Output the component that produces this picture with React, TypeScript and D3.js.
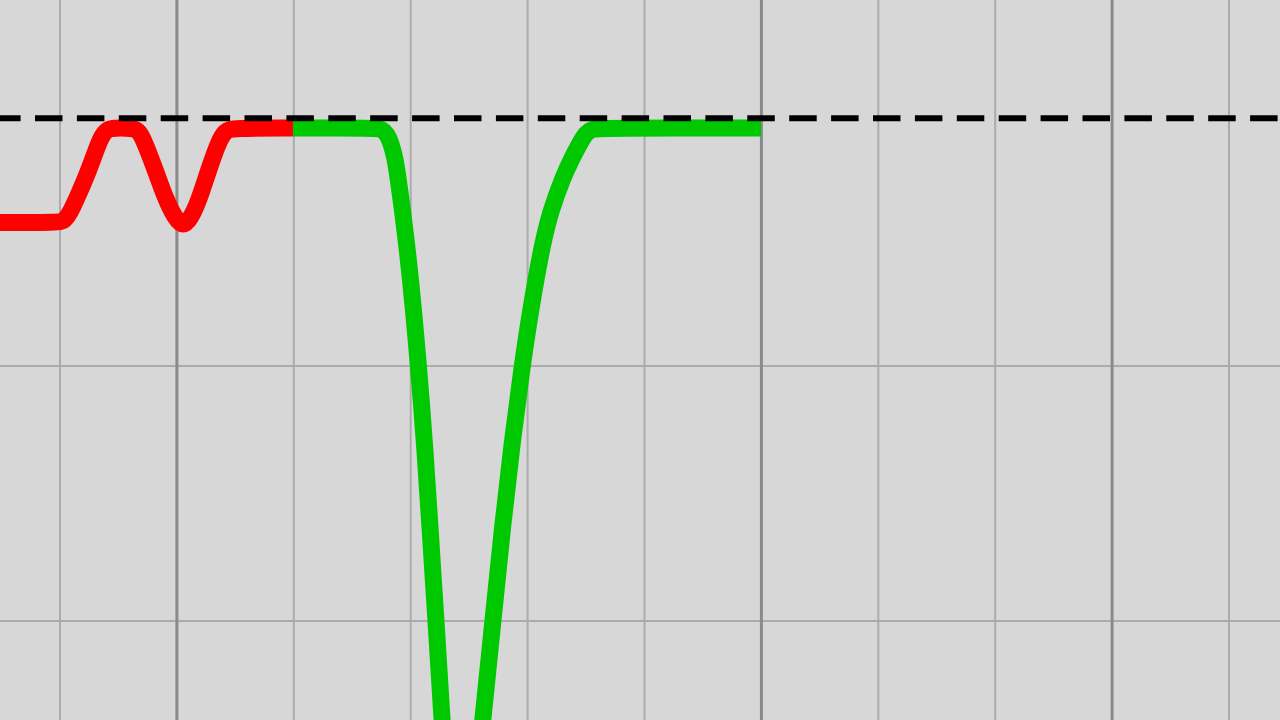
import { useEffect, useRef } from "react";
import * as d3 from "d3";

// grid positions (in grid units)
const gridX = [0, 1, 2, 3, 4, 5, 6, 7, 8, 9, 10];
const gridXMajor = [1, 6, 9];
const gridY = [0, 1];
const thresholdLevel = 1.972;

// red segment (before the switch)
const redX = [-0.52, 0, 0.034, 0.086, 0.145, 0.231, 0.308, 0.359, 0.411, 0.453, 0.624, 0.676, 0.727, 0.821, 0.907, 0.984, 1.052, 1.12, 1.189, 1.266, 1.352, 1.411, 1.471, 1.993];
const redY = [1.563, 1.563, 1.569, 1.6, 1.659, 1.749, 1.847, 1.906, 1.929, 1.933, 1.933, 1.922, 1.875, 1.761, 1.651, 1.58, 1.545, 1.58, 1.651, 1.761, 1.875, 1.922, 1.933, 1.933];

// green segment (after the switch)
const greenX = [1.993, 2.703, 2.754, 2.797, 2.831, 2.866, 2.891, 2.93, 2.964, 2.996, 3.024, 3.067, 3.093, 3.118, 3.165, 3.216, 3.268, 3.328, 3.405, 3.49, 3.618, 3.704, 3.785, 3.867, 3.952, 4.025, 4.127, 4.2, 4.303, 4.38, 4.448, 4.5, 4.551, 4.619, 5.997];
const greenY = [1.933, 1.933, 1.929, 1.91, 1.875, 1.816, 1.741, 1.612, 1.482, 1.349, 1.22, 0.996, 0.847, 0.698, 0.369, 0.004, -0.388, -0.82, -1.29, -0.937, -0.388, 0.004, 0.369, 0.698, 0.996, 1.22, 1.482, 1.612, 1.741, 1.816, 1.875, 1.914, 1.929, 1.933, 1.933];

const W = 1280;
const H = 720;

export default function App() {
  const svgRef = useRef<SVGSVGElement>(null);

  useEffect(() => {
    const svg = d3.select(svgRef.current);
    svg.selectAll("*").remove();

    const x = d3.scaleLinear().domain([0, 10]).range([60, 1229]);
    const y = d3.scaleLinear().domain([0, 1]).range([621, 366]);

    svg.append("rect").attr("width", W).attr("height", H).attr("fill", "#d7d7d7");

    // grid
    svg
      .selectAll(".hgrid")
      .data(gridY)
      .join("line")
      .attr("x1", 0)
      .attr("x2", W)
      .attr("y1", (d) => y(d))
      .attr("y2", (d) => y(d))
      .attr("stroke", "#ababab")
      .attr("stroke-width", 2);

    svg
      .selectAll(".vgrid")
      .data(gridX)
      .join("line")
      .attr("x1", (d) => x(d))
      .attr("x2", (d) => x(d))
      .attr("y1", 0)
      .attr("y2", H)
      .attr("stroke", (d) => (gridXMajor.includes(d) ? "#8a8a8a" : "#ababab"))
      .attr("stroke-width", (d) => (gridXMajor.includes(d) ? 3 : 2));

    // b-spline smooths out the jitter of the read-off points
    const line = d3
      .line<[number, number]>()
      .x((d) => x(d[0]))
      .y((d) => y(d[1]))
      .curve(d3.curveBasis);

    const red = redX.map((v, i) => [v, redY[i]] as [number, number]);
    const green = greenX.map((v, i) => [v, greenY[i]] as [number, number]);

    svg
      .append("path")
      .attr("d", line(red))
      .attr("fill", "none")
      .attr("stroke", "#ff0000")
      .attr("stroke-width", 17)
      .attr("stroke-linejoin", "round");

    svg
      .append("path")
      .attr("d", line(green))
      .attr("fill", "none")
      .attr("stroke", "#00c800")
      .attr("stroke-width", 17)
      .attr("stroke-linejoin", "round");

    // threshold
    svg
      .append("line")
      .attr("x1", 0)
      .attr("x2", W)
      .attr("y1", y(thresholdLevel))
      .attr("y2", y(thresholdLevel))
      .attr("stroke", "#000")
      .attr("stroke-width", 6)
      .attr("stroke-dasharray", "27.5 14.4")
      .attr("stroke-dashoffset", 6.9);
  }, []);

  return (
    <svg
      ref={svgRef}
      width={W}
      height={H}
      style={{ position: "fixed", left: 0, top: 0, display: "block" }}
    />
  );
}
